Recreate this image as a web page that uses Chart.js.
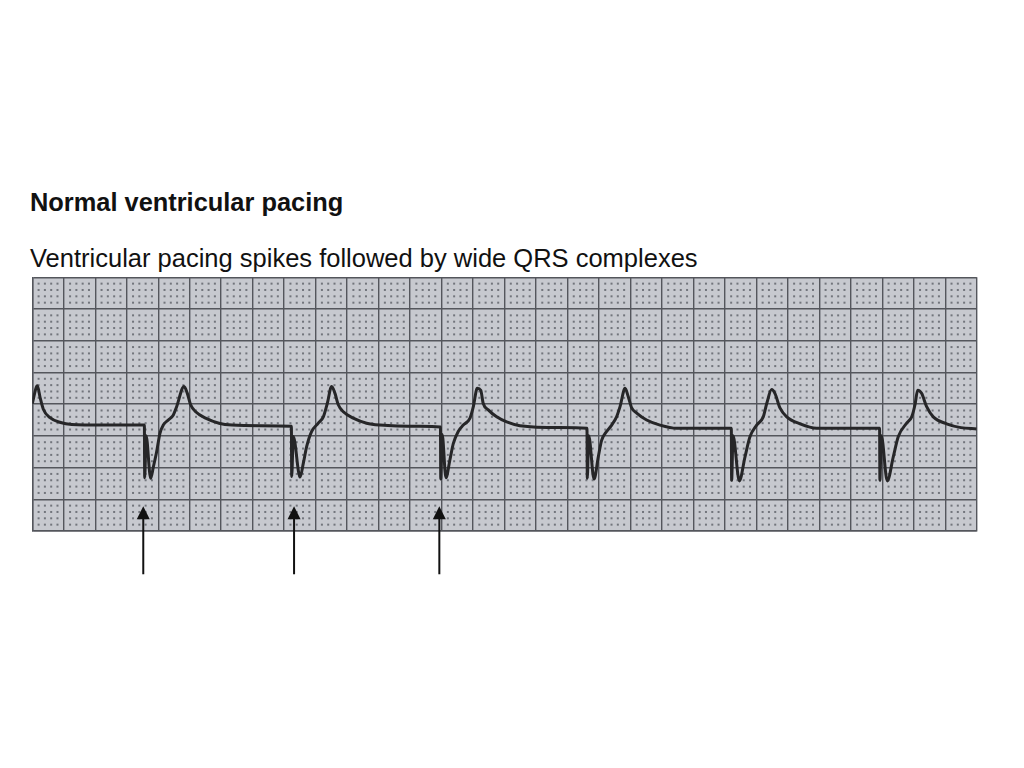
<!DOCTYPE html>
<html lang="en">
<head>
<meta charset="UTF-8">
<title>Normal ventricular pacing</title>
<script src="https://cdn.jsdelivr.net/npm/chart.js"></script>
<style>
  body { margin: 0; background: #fff; }
  #wrap { position: relative; width: 1024px; height: 768px; overflow: hidden; }
  #ecg { position: absolute; left: 0; top: 0; }
  .txt { position: absolute; left: 30px; line-height: 1; color: #111; font-family: "Liberation Sans", Arial, sans-serif; white-space: nowrap; }
  #title { top: 190px; font-size: 25.4px; font-weight: bold; }
  #sub { top: 245.5px; font-size: 25.5px; }
</style>
</head>
<body>
<div id="wrap">
  <div class="txt" id="title">Normal ventricular pacing</div>
  <div class="txt" id="sub">Ventricular pacing spikes followed by wide QRS complexes</div>
  <canvas id="ecg" width="1024" height="768"></canvas>
</div>
<script>
// trace: time in seconds (25 mm/s), amplitude in mV (10 mm/mV)
const ecgTime = [
  0.000, 0.032, 0.050, 0.070, 0.110, 0.180, 0.250, 0.450,
  // beat 1
  0.712, 0.714, 0.723, 0.752, 0.769, 0.790, 0.811, 0.832, 0.864, 0.896, 0.917, 0.964,
  0.985, 1.006, 1.038, 1.101, 1.186, 1.269, 1.450,
  // beat 2
  1.646, 1.648, 1.658, 1.701, 1.722, 1.743, 1.775, 1.817, 1.849, 1.874, 1.902,
  1.923, 1.944, 1.976, 2.039, 2.124, 2.209, 2.463,
  // beat 3
  2.593, 2.595, 2.604, 2.628, 2.653, 2.675, 2.706, 2.738, 2.781, 2.802, 2.827,
  2.849, 2.865, 2.897, 2.950, 3.014, 3.098, 3.352,
  // beat 4
  3.524, 3.526, 3.535, 3.569, 3.596, 3.617, 3.649, 3.681, 3.712, 3.734, 3.766,
  3.786, 3.808, 3.840, 3.903, 3.988, 4.094, 4.300,
  // beat 5
  4.441, 4.443, 4.452, 4.492, 4.528, 4.560, 4.602, 4.644, 4.666, 4.697,
  4.718, 4.750, 4.793, 4.877, 4.983, 5.200,
  // beat 6
  5.383, 5.385, 5.394, 5.432, 5.470, 5.502, 5.555, 5.587, 5.608, 5.625,
  5.650, 5.682, 5.724, 5.809, 5.900, 6.000
];
const ecgMv = [
  0.41, 0.69, 0.50, 0.32, 0.19, 0.11, 0.08, 0.07,
  0.07, -0.76, -0.10, -0.77, -0.59, -0.35, -0.06, 0.07, 0.15, 0.23, 0.36, 0.68,
  0.57, 0.39, 0.28, 0.18, 0.10, 0.07, 0.06,
  0.05, -0.74, -0.11, -0.75, -0.53, -0.27, -0.03, 0.10, 0.20, 0.41, 0.68,
  0.57, 0.39, 0.28, 0.18, 0.10, 0.07, 0.05,
  0.04, -0.78, -0.08, -0.76, -0.48, -0.22, -0.03, 0.07, 0.18, 0.36, 0.65,
  0.62, 0.41, 0.31, 0.20, 0.12, 0.06, 0.03,
  0.02, -0.77, -0.10, -0.78, -0.43, -0.17, -0.03, 0.07, 0.20, 0.36, 0.65,
  0.52, 0.34, 0.26, 0.15, 0.07, 0.02, 0.02,
  0.02, -0.80, -0.10, -0.81, -0.43, -0.11, 0.07, 0.20, 0.41, 0.63,
  0.57, 0.34, 0.20, 0.09, 0.02, 0.02,
  0.02, -0.80, -0.10, -0.81, -0.43, -0.11, 0.10, 0.20, 0.39, 0.62,
  0.57, 0.36, 0.20, 0.09, 0.03, 0.01
];
// arrows under the first three pacing spikes
const arrowTimes = [0.705, 1.663, 2.586];

const tMin = 0, tMax = 6;      // 30 big boxes of 0.2 s
const mvMin = -1.6, mvMax = 2.4; // 8 big boxes of 0.5 mV

// grey paper + small dotted grid
const paper = {
  id: 'paper',
  beforeDraw(chart) {
    const { ctx, chartArea: a, scales: { x, y } } = chart;
    ctx.save();
    ctx.fillStyle = '#c7c9cf';
    ctx.fillRect(a.left, a.top, a.right - a.left, a.bottom - a.top);
    ctx.fillStyle = '#72757c';
    for (let i = 1; i < 150; i++) {
      if (i % 5 === 0) continue;
      const px = x.getPixelForValue(i * 0.04);
      for (let j = 1; j < 40; j++) {
        if (j % 5 === 0) continue;
        const py = y.getPixelForValue(mvMin + j * 0.1);
        ctx.fillRect(px - 1, py - 1, 2, 2);
      }
    }
    ctx.restore();
  }
};

const arrows = {
  id: 'arrows',
  afterDraw(chart) {
    const { ctx, scales: { x, y } } = chart;
    ctx.save();
    ctx.fillStyle = '#111';
    ctx.strokeStyle = '#111';
    ctx.lineWidth = 2;
    arrowTimes.forEach(t => {
      const px = x.getPixelForValue(t);
      const tip = y.getPixelForValue(-1.21);
      ctx.beginPath();
      ctx.moveTo(px, tip + 10);
      ctx.lineTo(px, tip + 68);
      ctx.stroke();
      ctx.beginPath();
      ctx.moveTo(px, tip);
      ctx.lineTo(px - 6.5, tip + 13);
      ctx.lineTo(px + 6.5, tip + 13);
      ctx.closePath();
      ctx.fill();
    });
    ctx.restore();
  }
};

const ctx = document.getElementById('ecg').getContext('2d');
new Chart(ctx, {
  type: 'line',
  data: {
    datasets: [{
      data: ecgTime.map((t, i) => ({ x: t, y: ecgMv[i] })),
      borderColor: '#262628',
      borderWidth: 3,
      pointRadius: 0,
      cubicInterpolationMode: 'monotone',
      fill: false
    }]
  },
  options: {
    responsive: false,
    animation: false,
    layout: { padding: { left: 32.3, right: 47.3, top: 277.3, bottom: 237 } },
    plugins: { legend: { display: false }, tooltip: { enabled: false } },
    scales: {
      x: {
        type: 'linear', min: tMin, max: tMax,
        afterBuildTicks: s => { s.ticks = []; for (let i = 0; i <= 30; i++) s.ticks.push({ value: i * 0.2 }); },
        ticks: { display: false },
        grid: { color: '#54565c', lineWidth: 1.4, drawTicks: false },
        border: { color: '#54565c', width: 1.4 }
      },
      y: {
        min: mvMin, max: mvMax,
        afterBuildTicks: s => { s.ticks = []; for (let j = 0; j <= 8; j++) s.ticks.push({ value: mvMin + j * 0.5 }); },
        ticks: { display: false },
        grid: { color: '#54565c', lineWidth: 1.4, drawTicks: false },
        border: { color: '#54565c', width: 1.4 }
      }
    }
  },
  plugins: [paper, arrows]
});
</script>
</body>
</html>
